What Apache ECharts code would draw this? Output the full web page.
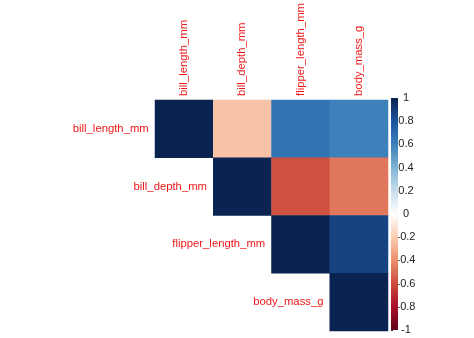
<!DOCTYPE html>
<html>
<head>
<meta charset="utf-8">
<script src="https://cdn.jsdelivr.net/npm/echarts@6/dist/echarts.min.js"></script>
<style>
html, body { margin: 0; padding: 0; background: #fff; }
#main { width: 474px; height: 338px; }
</style>
</head>
<body>
<div id="main"></div>
<script>
// variable names (rows and columns)
var vars = ['bill_length_mm', 'bill_depth_mm', 'flipper_length_mm', 'body_mass_g']
// upper triangle of the correlation matrix, row by row
var corrRow1 = [1, -0.235, 0.656, 0.595]
var corrRow2 = [1, -0.584, -0.472]
var corrRow3 = [1, 0.871]
var corrRow4 = [1]
// colour legend ticks
var legendTicks = [-1, -0.8, -0.6, -0.4, -0.2, 0, 0.2, 0.4, 0.6, 0.8, 1]
// RdBu-like palette as it shows in the picture (from -1 to 1)
var palette = ['#5F0018', '#A8102A', '#CC4C3C', '#EC8E6C', '#FBCDB2', '#FFFFFF',
    '#C6DDEC', '#7FB3D5', '#3A80B9', '#1C559E', '#0A2350']

var labelSize = 11.3
var rows = [corrRow1, corrRow2, corrRow3, corrRow4]
var cells = []
rows.forEach(function(r, i) {
    r.forEach(function(v, k) {
        var j = i + k
        var item = { value: [j, i, v] }
        if (i === j) {
            // row name sits left of the diagonal cell
            item.label = {
                show: true,
                position: 'left',
                distance: 6,
                formatter: vars[i],
                color: '#f01818',
                fontSize: labelSize,
                fontFamily: 'Liberation Sans'
            }
        }
        cells.push(item)
    })
})

var stops = palette.map(function(c, i) {
    return { offset: i / (palette.length - 1), color: c }
})

var myChart = echarts.init(document.getElementById('main'))
var option = {
    animation: false,
    grid: [
        { left: 155, top: 98, width: 233, height: 233 },
        { left: 391, top: 98, width: 7, height: 232 }
    ],
    xAxis: [
        {
            type: 'category',
            gridIndex: 0,
            data: vars,
            position: 'top',
            axisLine: { show: false },
            axisTick: { show: false },
            axisLabel: {
                rotate: -90,
                margin: 4,
                color: '#f01818',
                fontSize: labelSize,
                fontFamily: 'Liberation Sans'
            }
        },
        { type: 'value', gridIndex: 1, min: 0, max: 1, show: false }
    ],
    yAxis: [
        {
            type: 'category',
            gridIndex: 0,
            data: vars,
            inverse: true,
            axisLine: { show: false },
            axisTick: { show: false },
            axisLabel: { show: false }
        },
        {
            type: 'value',
            gridIndex: 1,
            position: 'right',
            min: -1,
            max: 1,
            interval: 0.2,
            splitLine: { show: false },
            axisLine: { show: false },
            axisTick: { show: true, length: 2, lineStyle: { color: '#333' } },
            axisLabel: {
                margin: 8,
                align: 'center',
                color: '#222',
                fontSize: 11,
                fontFamily: 'Liberation Sans',
                formatter: function(v) {
                    var r = Math.round(v * 10) / 10
                    return legendTicks.indexOf(r) >= 0 ? String(r) : ''
                }
            }
        }
    ],
    visualMap: {
        show: false,
        seriesIndex: 0,
        dimension: 2,
        min: -1,
        max: 1,
        inRange: { color: palette }
    },
    series: [
        {
            type: 'heatmap',
            xAxisIndex: 0,
            yAxisIndex: 0,
            data: cells,
            emphasis: { disabled: true }
        },
        {
            // colour legend bar
            type: 'custom',
            xAxisIndex: 1,
            yAxisIndex: 1,
            silent: true,
            data: [[0, -1]],
            renderItem: function(params, api) {
                var p0 = api.coord([0, -1])
                var p1 = api.coord([1, 1])
                return {
                    type: 'rect',
                    shape: { x: p0[0], y: p1[1], width: p1[0] - p0[0], height: p0[1] - p1[1] },
                    style: { fill: new echarts.graphic.LinearGradient(0, 1, 0, 0, stops) }
                }
            }
        }
    ]
}
myChart.setOption(option)
</script>
</body>
</html>
